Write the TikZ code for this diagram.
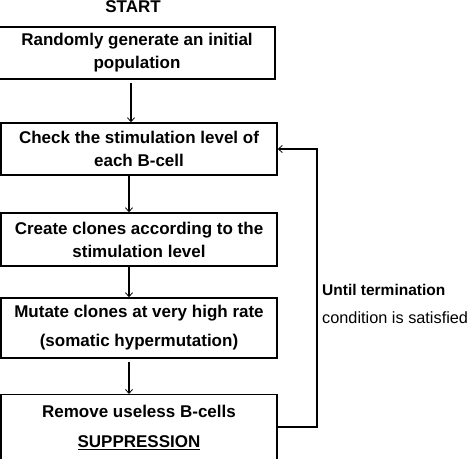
\documentclass[tikz,border=0pt]{standalone}
\usepackage{fontspec}
\setmainfont{Liberation Sans}
\usetikzlibrary{arrows.meta}
\begin{document}
\begin{tikzpicture}[x=1pt,y=-1pt,
  box/.style={draw,line width=1.4pt,minimum width=276pt,inner sep=0pt,align=center,font=\bfseries\fontsize{17}{23}\selectfont},
  flow/.style={line width=2pt,-{Straight Barb[length=4pt,width=7pt,line width=0.8pt]}},
  back/.style={line width=1.4pt,-{Straight Barb[length=4pt,width=7pt,line width=0.8pt]}}]
\useasboundingbox (0,0) rectangle (474,458);
\clip (0,0) rectangle (474,458);
\node[font=\bfseries\fontsize{17}{20}\selectfont] (start) at (133,7) {START};
\node[box,minimum height=52pt] (b1) at (137,53) {Randomly generate an initial\\population};
\node[box,minimum height=52pt] (b2) at (139,149) {Check the stimulation level of\\each B-cell};
\node[box,minimum height=53pt] (b3) at (139,239.5) {Create clones according to the\\stimulation level};
\node[box,minimum height=60pt,font=\bfseries\fontsize{17}{29}\selectfont] (b4) at (139,328) {Mutate clones at very high rate\\(somatic hypermutation)};
\node[box,minimum height=66pt,font=\bfseries\fontsize{17}{30}\selectfont,anchor=north] (b5) at (139,394) {Remove useless B-cells\\\underline{SUPPRESSION}};
\coordinate (c1) at (131,83);
\draw[flow] (c1) -- (b2.north -| c1);
\draw[flow] (b2.south -| 129,0) -- (b3.north -| 129,0);
\draw[flow] (b3.south -| 129,0) -- (b4.north -| 129,0);
\coordinate (c4) at (129,362);
\draw[flow] (c4) -- (b5.north -| c4);
\coordinate (r1) at (317,427);
\coordinate (r2) at (317,149);
\draw[back] (b5.east |- r1) -- (r1) -- (r2) -- (b2.east);
\node[anchor=west,inner sep=1pt,font=\bfseries\fontsize{15.5}{18}\selectfont] (t1) at (321,290) {Until termination};
\node[anchor=west,inner sep=1pt,font=\fontsize{16.3}{20}\selectfont] (t2) at (321,318) {condition is satisfied};
\end{tikzpicture}
\end{document}
